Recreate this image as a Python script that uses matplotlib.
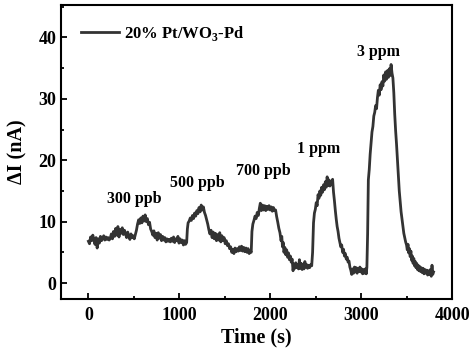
import numpy as np
import matplotlib.pyplot as plt
from matplotlib.ticker import MultipleLocator

plt.rcParams['font.family'] = ['Liberation Serif', 'DejaVu Serif']
plt.rcParams['font.weight'] = 'bold'
plt.rcParams['mathtext.fontset'] = 'custom'
plt.rcParams['mathtext.rm'] = 'Liberation Serif:bold'
plt.rcParams['mathtext.bf'] = 'Liberation Serif:bold'

# сигнал (по участкам)
time = [
    # фон + 300 ppb
    0, 12, 24, 36, 48, 60, 72, 84, 96, 108, 120, 132, 144, 156, 168, 180,
    192, 204, 216, 228, 240, 252, 264, 276, 288, 300, 312, 324, 336, 348, 360, 372,
    384, 396, 408, 420, 432, 444, 456, 468, 480, 492, 504, 516, 528, 540, 552, 564,
    576, 588, 600, 612, 624, 636, 648, 660, 672, 684, 696, 708, 720, 732, 744, 756,
    768, 780, 792, 804, 816, 828, 840, 852, 864, 876, 888, 900, 912, 924, 936, 948,
    960, 972, 984, 996, 1008, 1020, 1032, 1044, 1056, 1068, 1080,
    # 500 ppb
    1088, 1096, 1108, 1120, 1132, 1144, 1156, 1168, 1180, 1192, 1204, 1216, 1228, 1240, 1252, 1264,
    1276, 1288, 1300, 1312, 1324, 1336, 1348, 1360, 1372, 1384, 1396, 1408, 1420, 1432, 1444, 1456,
    1468, 1480, 1492, 1504, 1516, 1528, 1540, 1552, 1564, 1576, 1588, 1600, 1612, 1624, 1636, 1648,
    1660, 1672, 1684, 1696, 1708, 1720, 1732, 1744, 1756, 1768, 1780, 1790,
    # 700 ppb
    1798, 1808, 1820, 1832, 1844, 1856, 1868, 1880, 1890, 1902, 1914, 1926, 1938, 1950, 1962, 1974,
    1986, 1998, 2010, 2022, 2034, 2046, 2058, 2070, 2082, 2094, 2106, 2118, 2126, 2134, 2142, 2150,
    2160, 2170, 2180, 2190, 2200, 2210, 2220, 2230, 2240, 2250, 2260, 2270, 2280, 2290, 2300, 2310,
    2320, 2330, 2340, 2350, 2360, 2370, 2380, 2390, 2400, 2410, 2420, 2432, 2444, 2455,
    # 1 ppm
    2465, 2475, 2485, 2495, 2505, 2515, 2525, 2535, 2545, 2555, 2565, 2575, 2585, 2595, 2605, 2615,
    2625, 2635, 2645, 2655, 2665, 2675, 2685, 2695, 2705, 2715, 2725, 2735, 2745, 2755, 2765, 2775,
    2785, 2795, 2805, 2815, 2825, 2835, 2845, 2855, 2865, 2875, 2885, 2895, 2905, 2915, 2925, 2935,
    2945, 2955, 2965, 2975, 2985, 2995, 3005, 3015, 3025, 3035, 3045, 3055,
    # 3 ppm
    3062, 3070, 3078, 3088, 3098, 3108, 3118, 3128, 3138, 3148, 3158, 3168, 3178, 3188, 3198, 3208,
    3218, 3228, 3238, 3248, 3258, 3268, 3278, 3288, 3298, 3308, 3318, 3328, 3338, 3348, 3358, 3368,
    3378, 3388, 3398, 3408, 3418, 3428, 3438, 3448, 3458, 3468, 3478, 3488, 3498, 3506, 3514, 3522,
    3530, 3538, 3546, 3554, 3562, 3570, 3578, 3586, 3594, 3602, 3610, 3618, 3626, 3634, 3642, 3650,
    3660, 3670, 3680, 3690, 3700, 3710, 3720, 3730, 3740, 3750, 3760, 3770, 3778, 3786, 3795,
]
current = [
    6.8, 6.4, 7.5, 6.9, 7.8, 7.1, 6.3, 7.4, 5.7, 7.2, 6.5, 7.6, 6.9, 7.3, 7.7, 7.0,
    7.5, 7.1, 7.4, 7.0, 7.3, 8.0, 7.2, 8.4, 7.6, 8.9, 7.8, 9.2, 7.5, 8.7, 8.1, 9.0,
    7.9, 8.6, 8.0, 7.4, 8.3, 7.6, 7.1, 8.0, 7.4, 7.7, 7.2, 7.9, 8.6, 9.6, 10.3, 9.7,
    10.6, 9.8, 10.9, 10.1, 11.1, 10.0, 10.5, 9.5, 9.9, 8.8, 8.4, 7.8, 8.5, 7.4, 8.1, 7.0,
    8.2, 7.3, 7.9, 6.9, 7.6, 7.0, 7.4, 6.7, 7.2, 6.8, 7.1, 6.7, 7.3, 6.8, 7.5, 6.6,
    7.2, 6.9, 7.6, 6.5, 7.2, 6.6, 7.0, 6.2, 6.9, 6.3, 6.6,
    8.8, 9.8, 10.1, 10.6, 10.2, 11.0, 10.5, 11.4, 10.9, 11.8, 11.3, 12.3, 11.6, 12.7, 11.9, 12.4,
    11.5, 11.0, 10.3, 9.6, 8.7, 8.0, 8.6, 7.4, 8.3, 7.2, 8.1, 6.9, 7.9, 7.0, 8.2, 6.7,
    7.7, 6.9, 7.4, 6.4, 6.9, 6.1, 6.4, 5.6, 5.9, 5.0, 5.5, 4.8, 5.7, 5.1, 5.6, 5.2,
    5.9, 5.3, 6.0, 5.2, 5.8, 5.1, 5.7, 5.0, 5.6, 4.8, 5.3, 5.0,
    8.4, 9.6, 10.2, 10.9, 10.5, 11.5, 11.0, 12.2, 13.0, 11.8, 12.7, 11.9, 12.6, 11.8, 12.5, 12.0,
    12.6, 11.9, 12.4, 11.7, 12.3, 11.8, 11.9, 10.8, 9.9, 8.9, 8.2, 6.9, 7.6, 5.9, 6.6, 5.0,
    5.8, 4.6, 5.4, 4.2, 4.9, 3.8, 4.4, 3.4, 3.9, 2.0, 3.1, 2.4, 3.3, 2.5, 3.0, 2.3,
    3.8, 2.4, 3.2, 2.2, 3.0, 2.3, 3.5, 2.6, 3.0, 2.4, 2.9, 2.5, 3.0, 2.8,
    5.0, 9.8, 11.4, 12.0, 13.1, 12.6, 14.4, 13.8, 15.0, 14.3, 15.6, 14.8, 16.0, 15.2, 16.5, 15.6,
    17.3, 15.9, 16.8, 15.8, 16.6, 16.0, 16.9, 14.8, 13.4, 11.8, 10.4, 9.2, 8.4, 7.3, 6.6, 5.9,
    6.2, 5.0, 5.5, 4.4, 4.8, 3.9, 4.2, 3.4, 3.6, 2.6, 2.1, 1.4, 2.3, 1.6, 2.6, 1.8,
    2.5, 1.6, 2.4, 1.9, 2.6, 1.8, 2.3, 1.5, 2.2, 1.6, 2.3, 1.5,
    2.6, 8.0, 16.8, 18.5, 21.0, 22.8, 24.6, 25.5, 27.2, 27.8, 28.9, 28.4, 30.2, 31.4, 30.6, 32.3,
    31.5, 32.8, 32.1, 33.9, 32.9, 34.4, 33.2, 34.6, 33.5, 34.9, 33.8, 35.6, 34.2, 33.4, 31.0, 27.5,
    24.8, 22.6, 20.0, 17.4, 15.0, 13.2, 11.6, 10.4, 9.2, 8.1, 7.4, 6.7, 6.2, 5.4, 6.3, 4.9,
    5.6, 4.3, 5.2, 3.7, 4.4, 3.2, 4.0, 2.8, 3.5, 2.5, 3.2, 2.2, 2.9, 2.0, 2.7, 1.9,
    2.5, 1.7, 2.4, 1.5, 2.2, 1.6, 2.1, 1.3, 2.0, 1.4, 2.2, 1.1, 2.9, 1.4, 1.8,
]

labels = ['300 ppb', '500 ppb', '700 ppb', '1 ppm', '3 ppm']
label_x = [500, 1195, 1925, 2530, 3190]
label_y = [13.7, 16.3, 18.2, 21.8, 37.6]

fig = plt.figure(figsize=(4.74, 3.53), dpi=100)
ax = fig.add_axes([0.129, 0.153, 0.825, 0.833])

ax.plot(time, current, color='#333333', linewidth=2.0, label='20% Pt/WO$_3$-Pd')

for t, x, y in zip(labels, label_x, label_y):
    ax.text(x, y, t, ha='center', va='center', fontsize=11.5, fontweight='bold')

ax.set_xlim(-300, 4000)
ax.set_ylim(-2.6, 45.3)
ax.xaxis.set_major_locator(MultipleLocator(1000))
ax.xaxis.set_minor_locator(MultipleLocator(500))
ax.yaxis.set_major_locator(MultipleLocator(10))
ax.yaxis.set_minor_locator(MultipleLocator(5))
ax.tick_params(which='both', direction='in', width=1.3, labelsize=13)
ax.tick_params(axis='x', pad=6)
ax.tick_params(which='major', length=4)
ax.tick_params(which='minor', length=2.5)
for s in ax.spines.values():
    s.set_linewidth(1.5)

ax.set_xlabel('Time (s)', fontsize=14.5, fontweight='bold', labelpad=2)
ax.set_ylabel('ΔI (nA)', fontsize=14.5, fontweight='bold', labelpad=8)

ax.legend(loc='upper left', frameon=False, fontsize=12, handlelength=2.3,
          handletextpad=0.3, borderaxespad=0.3, bbox_to_anchor=(0.02, 0.975))

plt.savefig('out.png', dpi=100)
